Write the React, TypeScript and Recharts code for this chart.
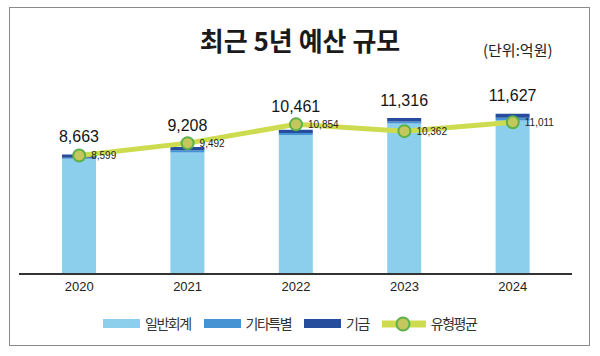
import React from "react";
import { ComposedChart, Bar, Line, XAxis, YAxis, LabelList } from "recharts";

const years = ["2020", "2021", "2022", "2023", "2024"];
const general = [8353, 8818, 10081, 10916, 11127];
const special = [80, 150, 150, 150, 200];
const fund = [230, 240, 230, 250, 300];
const totals = [8663, 9208, 10461, 11316, 11627];
const average = [8599, 9492, 10854, 10362, 11011];

const seriesNames = ["일반회계", "기타특별", "기금", "유형평균"];
const seriesColors = ["#8ccfec", "#4593d3", "#264c9c", "#cddc4f"];

const data = years.map((year, i) => ({
  year,
  general: general[i],
  special: special[i],
  fund: fund[i],
  total: totals[i],
  average: average[i],
}));

const NUM_FONT = "'Liberation Sans', Arial, sans-serif";
const KR_FONT = "'Noto Sans CJK KR', sans-serif";

const fmt = (v: number) => v.toLocaleString("en-US");

// total sits above the bar, lifted over the line point when that is higher
function TotalLabel(props: any) {
  const vb = props.viewBox ?? props;
  const { x, y, width, height } = vb;
  let i = props.index;
  if (i === undefined) i = totals.indexOf(props.value);
  const base = y + height;
  const k = height / general[i];
  const top = base - totals[i] * k;
  const pt = base - average[i] * k;
  const cy = Math.min(top, pt) - 18;
  return (
    <text
      x={x + width / 2}
      y={cy}
      textAnchor="middle"
      dominantBaseline="central"
      fontSize={16}
      fontFamily={NUM_FONT}
      fill="#151515"
    >
      {fmt(totals[i])}
    </text>
  );
}

function LegendSwatch({ idx }: { idx: number }) {
  if (idx === 3) {
    return (
      <svg width={44} height={16} style={{ display: "block" }}>
        <line x1={0} y1={8} x2={44} y2={8} stroke={seriesColors[3]} strokeWidth={7} />
        <circle cx={21} cy={8} r={6.5} fill="#c4c75c" stroke="#5cb14a" strokeWidth={2} />
      </svg>
    );
  }
  return <div style={{ width: 37, height: 9, background: seriesColors[idx] }} />;
}

export default function App() {
  return (
    <div
      style={{
        position: "absolute",
        left: 0,
        top: 0,
        width: 600,
        height: 356,
        background: "#fff",
        overflow: "hidden",
      }}
    >
      <div
        style={{
          position: "absolute",
          left: 9,
          top: 7,
          width: 581,
          height: 339,
          border: "1px solid #8a8a8a",
          boxSizing: "border-box",
        }}
      />
      <div
        style={{
          position: "absolute",
          left: 0,
          top: 27,
          width: 600,
          textAlign: "center",
          fontFamily: KR_FONT,
          fontWeight: 700,
          fontSize: 26,
          lineHeight: "26px",
          color: "#1a1a1a",
        }}
      >
        최근 5년 예산 규모
      </div>
      <div
        style={{
          position: "absolute",
          left: 483,
          top: 41,
          fontFamily: KR_FONT,
          fontSize: 15,
          lineHeight: "17px",
          color: "#222",
          whiteSpace: "nowrap",
        }}
      >
        (단위:억원)
      </div>

      <div style={{ position: "absolute", left: 0, top: 0 }}>
        <ComposedChart
          width={600}
          height={356}
          data={data}
          margin={{ top: 81, right: 28, bottom: 52, left: 19 }}
        >
          <XAxis
            dataKey="year"
            height={30}
            padding={{ left: 6, right: 5 }}
            tickLine={false}
            axisLine={{ stroke: "#333", strokeWidth: 2 }}
            tick={{ fontSize: 13, fill: "#222", fontFamily: NUM_FONT }}
          />
          <YAxis hide domain={[0, 14000]} />
          <Bar dataKey="general" stackId="a" fill={seriesColors[0]} barSize={34} isAnimationActive={false}>
            <LabelList dataKey="total" content={TotalLabel} />
          </Bar>
          <Bar dataKey="special" stackId="a" fill={seriesColors[1]} barSize={34} isAnimationActive={false} />
          <Bar dataKey="fund" stackId="a" fill={seriesColors[2]} barSize={34} isAnimationActive={false} />
          <Line
            type="linear"
            dataKey="average"
            stroke={seriesColors[3]}
            strokeWidth={5}
            dot={{ r: 6, fill: "#c4c75c", stroke: "#5cb14a", strokeWidth: 2 }}
            activeDot={false}
            isAnimationActive={false}
          >
            <LabelList
              dataKey="average"
              position="right"
              offset={12}
              formatter={(v: any) => fmt(Number(v))}
              style={{ fontSize: 10, fill: "#222", fontFamily: NUM_FONT }}
            />
          </Line>
        </ComposedChart>
      </div>

      <div
        style={{
          position: "absolute",
          left: 103,
          top: 315,
          display: "flex",
          alignItems: "center",
          height: 17,
        }}
      >
        {seriesNames.map((name, idx) => (
          <div key={name} style={{ display: "flex", alignItems: "center", marginRight: 13 }}>
            <LegendSwatch idx={idx} />
            <span
              style={{
                marginLeft: 5,
                fontFamily: KR_FONT,
                fontSize: 14,
                letterSpacing: -1.5,
                color: "#333",
                lineHeight: "17px",
              }}
            >
              {name}
            </span>
          </div>
        ))}
      </div>
    </div>
  );
}
